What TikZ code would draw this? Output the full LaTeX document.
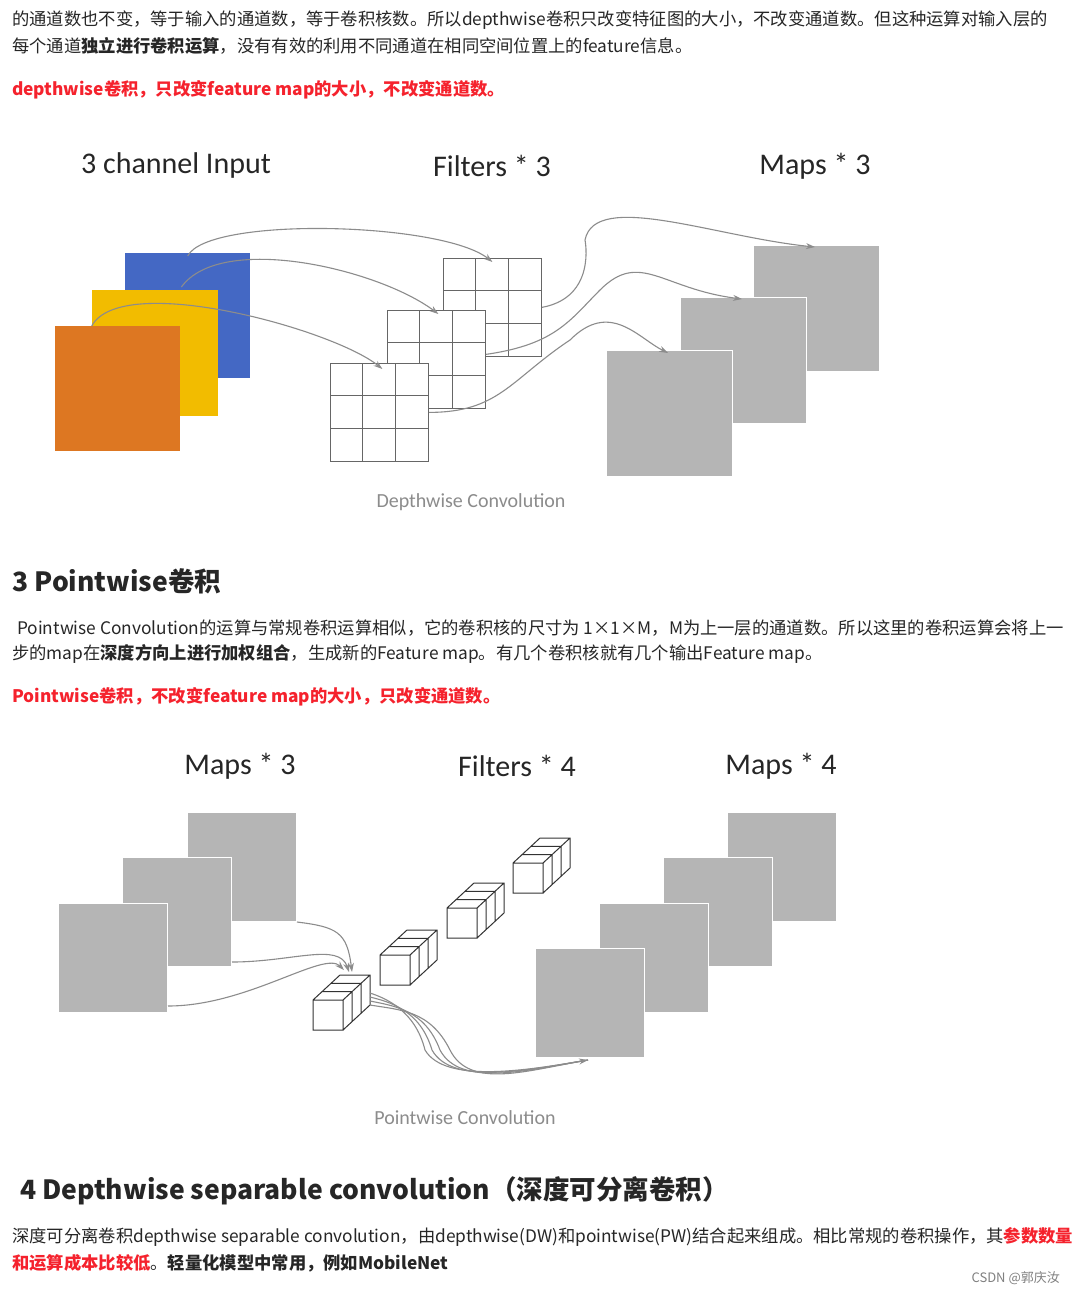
\documentclass[tikz,border=0pt]{standalone}
\usepackage{fontspec}
\setmainfont{Noto Sans CJK SC}
\newfontfamily\dia{Carlito}
\usetikzlibrary{arrows.meta}
\definecolor{redt}{HTML}{F5222D}
\definecolor{mapg}{HTML}{B5B5B5}
\definecolor{capg}{HTML}{8C8C8C}
\definecolor{bl}{HTML}{4468C4}
\definecolor{ye}{HTML}{F2BC00}
\definecolor{orr}{HTML}{DD7722}
\tikzset{
 body/.style={anchor=west,inner sep=0,font=\fontsize{17.3}{17}\selectfont,text=black!85},
 redl/.style={body,text=redt,font=\fontsize{17.3}{17}\selectfont\bfseries},
 head/.style={anchor=west,inner sep=0,font=\fontsize{26.5}{26}\selectfont\bfseries,text=black!85},
 lab/.style={inner sep=0,font=\dia\fontsize{30}{30}\selectfont,text=black!85},
 captext/.style={inner sep=0,font=\dia\fontsize{20}{20}\selectfont,text=capg},
 mapbox/.style={fill=mapg,draw=white,line width=1pt},
 cv/.style={draw=black!45,line width=1.1pt,-{Stealth[length=9pt,width=6pt]}},
 cvn/.style={draw=black!45,line width=1.1pt},
 grd/.style={draw=black!60,fill=white,line width=0.8pt},
 cube/.pic={
  \fill[white] (0,0) rectangle (30,-30);
  \fill[white] (0,-30) -- (27,-55) -- (57,-55) -- (30,-30) -- cycle;
  \fill[white] (30,0) -- (57,-25) -- (57,-55) -- (30,-30) -- cycle;
  \draw[black!80,line width=1pt] (0,0) rectangle (30,-30) (0,-30) -- (27,-55) -- (57,-55) -- (57,-25) -- (30,0) (30,-30) -- (57,-55)
   (9,-38.3) -- (39,-38.3) -- (39,-8.3) (18,-46.7) -- (48,-46.7) -- (48,-16.7);
 }
}
\begin{document}
\begin{tikzpicture}[x=1pt,y=-1pt]
\useasboundingbox[fill=white] (0,0) rectangle (1075,1295);
% top text
\node[body] (t1) at (12,20) {的通道数也不变，等于输入的通道数，等于卷积核数。所以depthwise卷积只改变特征图的大小，不改变通道数。但这种运算对输入层的};
\node[body] (t2) at (12,46) {每个通道\textbf{独立进行卷积运算}，没有有效的利用不同通道在相同空间位置上的feature信息。};
\node[redl] (t3) at (12,90) {depthwise卷积，只改变feature map的大小，不改变通道数。};
% diagram 1
\node[lab] (l1) at (176,166) {3 channel Input};
\node[lab] (l2) at (492,166) {Filters * 3};
\node[lab] (l3) at (815,166) {Maps * 3};
\node[fill=bl,minimum size=125pt,inner sep=0,anchor=north west] (blue) at (125,253) {};
\node[fill=ye,minimum size=126pt,inner sep=0,anchor=north west] (yel) at (92,290) {};
\node[fill=orr,minimum size=125pt,inner sep=0,anchor=north west] (ora) at (55,326) {};
\foreach \n/\x/\y in {g1/443/258,g2/387/310,g3/330/363}{
 \node[grd,minimum size=98pt,inner sep=0,anchor=north west] (\n) at (\x,\y) {};
 \draw[black!60,line width=0.8pt] (\x+32.7,\y) -- (\x+32.7,\y+98) (\x+65.3,\y) -- (\x+65.3,\y+98) (\x,\y+32.7) -- (\x+98,\y+32.7) (\x,\y+65.3) -- (\x+98,\y+65.3);
}
\foreach \n/\x/\y in {m1/753/245,m2/680/297,m3/606/350}{
 \node[mapbox,minimum size=126pt,inner sep=0,anchor=north west] (\n) at (\x,\y) {};
}
\draw[cv] ([yshift=-3pt]blue.north) .. controls +(20,-40) and +(-50,-40) .. ([yshift=-4pt]g1.north);
\draw[cv] ([xshift=-37pt,yshift=3pt]yel.north east) .. controls +(40,-55) and +(-60,-45) .. ([xshift=2pt,yshift=-4pt]g2.north);
\draw[cv] ([xshift=-26pt]ora.north) .. controls +(30,-55) and +(-50,-40) .. ([xshift=3pt,yshift=-6pt]g3.north);
\draw[cv] (g1.east) .. controls +(55,-10) and +(0,0) .. (585,240) .. controls +(10,-50) and +(-100,-10) .. ([xshift=-65pt,yshift=-2pt]m1.north east);
\draw[cv] ([yshift=5pt]g2.east) .. controls +(70,-10) and +(-30,30) .. (600,290) .. controls +(40,-40) and +(-80,-10) .. ([xshift=-65pt,yshift=-2pt]m2.north east);
\draw[cv] (g3.east) .. controls +(70,0) and +(-60,40) .. (570,340) .. controls +(40,-40) and +(-30,-15) .. ([xshift=-65pt,yshift=-3pt]m3.north east);
\node[captext] (c1) at (471,502) {Depthwise Convolution};
% section 3
\node[head] (h3) at (12,581) {3 Pointwise卷积};
\node[body] (p1) at (17,628) {Pointwise Convolution的运算与常规卷积运算相似，它的卷积核的尺寸为 1×1×M，M为上一层的通道数。所以这里的卷积运算会将上一};
\node[body] (p2) at (12,654) {步的map在\textbf{深度方向上进行加权组合}，生成新的Feature map。有几个卷积核就有几个输出Feature map。};
\node[redl] (p3) at (12,697) {Pointwise卷积，不改变feature map的大小，只改变通道数。};
% diagram 2
\node[lab] (k1) at (240,766) {Maps * 3};
\node[lab] (k2) at (517,766) {Filters * 4};
\node[lab] (k3) at (781,766) {Maps * 4};
\foreach \n/\x/\y in {a1/187/812,a2/122/857,a3/58/903}{
 \node[mapbox,minimum size=109pt,inner sep=0,anchor=north west] (\n) at (\x,\y) {};
}
\foreach \n/\x/\y in {b1/727/812,b2/663/857,b3/599/903,b4/535/948}{
 \node[mapbox,minimum size=109pt,inner sep=0,anchor=north west] (\n) at (\x,\y) {};
}
\coordinate (cb) at (352,972);
\draw[cv] ([yshift=-55pt]a1.east) .. controls +(40,5) and +(-5,-40) .. (cb);
\draw[cv] ([yshift=-50pt]a2.east) .. controls +(60,0) and +(-10,-30) .. ([xshift=-3pt]cb);
\draw[cv] ([yshift=-48pt]a3.east) .. controls +(80,0) and +(-20,-20) .. ([xshift=-8pt,yshift=2pt]cb);
\foreach \n/\x/\y in {f4/513/893,f3/447/938,f2/380/985,f1/313/1030}{
 \pic at (\x,\y) {cube};
 \coordinate (\n) at (\x+57,\y-25);
}
\coordinate (ce) at (588,1060);
\draw[cvn] (f1) .. controls +(30,5) and +(-20,-40) .. (450,1050) .. controls +(20,40) and +(-60,10) .. (ce);
\draw[cvn] ([yshift=4pt]f1) .. controls +(25,5) and +(-15,-40) .. (440,1050) .. controls +(20,38) and +(-60,10) .. (ce);
\draw[cvn] ([yshift=8pt]f1) .. controls +(20,5) and +(-12,-40) .. (432,1050) .. controls +(20,36) and +(-60,10) .. (ce);
\draw[cv] ([yshift=12pt]f1) .. controls +(15,5) and +(-10,-40) .. (425,1050) .. controls +(20,34) and +(-60,10) .. (ce);
\node[captext] (c2) at (465,1118) {Pointwise Convolution};
% section 4
\node[head] (h4) at (20,1191) {4 Depthwise separable convolution（深度可分离卷积）};
\node[body] (q1) at (12,1237) {深度可分离卷积depthwise separable convolution，由depthwise(DW)和pointwise(PW)结合起来组成。相比常规的卷积操作，其\textcolor{redt}{\textbf{参数数量}}};
\node[body] (q2) at (12,1263) {\textcolor{redt}{\textbf{和运算成本比较低}}。\textbf{轻量化模型中常用，例如MobileNet}};
\node[anchor=east,inner sep=0,font=\fontsize{13}{13}\selectfont,text=black!50] (cs) at (1060,1278) {CSDN @郭庆汝};
\end{tikzpicture}
\end{document}
